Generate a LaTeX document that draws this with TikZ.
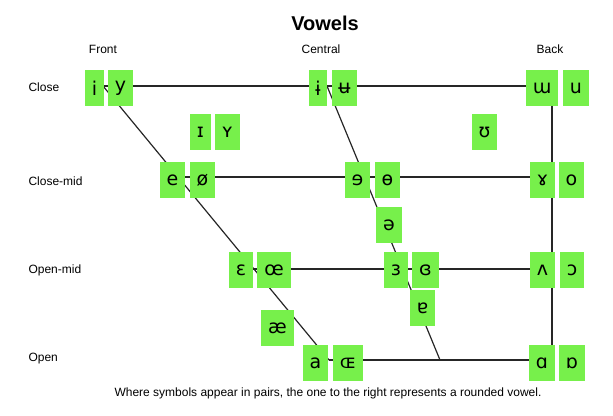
\documentclass[tikz,border=0pt]{standalone}
\usepackage{fontspec}
\setmainfont{Liberation Sans}
\newfontfamily\ipafont{DejaVu Sans}
\definecolor{vg}{HTML}{77F04B}
\begin{document}
\begin{tikzpicture}[x=1pt,y=-1pt,
  lbl/.style={font=\fontsize{12}{14}\selectfont, anchor=center},
  ln/.style={line width=1.2pt, black!85},
  v/.style={fill=vg, inner sep=0pt, minimum height=36pt, font=\ipafont\fontsize{19}{20}\selectfont}]
\useasboundingbox (0,0) rectangle (613,415);
\node[font=\bfseries\fontsize{20}{22}\selectfont] (title) at (325,23) {Vowels};
\node[lbl] (hf) at (103,49) {Front};
\node[lbl] (hc) at (321,49) {Central};
\node[lbl] (hb) at (550,49) {Back};
\node[lbl, anchor=west] (rc) at (25,87) {Close};
\node[lbl, anchor=west] (rcm) at (25,181) {Close-mid};
\node[lbl, anchor=west] (rom) at (25,270) {Open-mid};
\node[lbl, anchor=west] (ro) at (25,359) {Open};
\node[lbl] (cap) at (328,393) {Where symbols appear in pairs, the one to the right represents a rounded vowel.};
% chart lines
\coordinate (c1) at (103,86); \coordinate (c2) at (552,86);
\coordinate (f1) at (178,177); \coordinate (b1) at (552,177);
\coordinate (f2) at (253,269); \coordinate (b2) at (552,269);
\coordinate (f3) at (329,360); \coordinate (b3) at (552,360);
\coordinate (m0) at (327,86); \coordinate (m3) at (440,360);
\draw[ln] (c1) -- (c2);
\draw[ln] (f1) -- (b1);
\draw[ln] (f2) -- (b2);
\draw[ln] (f3) -- (b3);
\draw[ln] (c1) -- (f3);
\draw[ln] (m0) -- (m3);
\draw[ln] (c2) -- (b3);
% vowels
\newcommand\vw[5]{\node[v, minimum width=#4pt] (#1) at (#2,#3) {#5};}
\vw{i}{94.5}{88}{19}{i}
\vw{y}{120.5}{88}{25}{y}
\vw{ibar}{318}{88}{18}{ɨ}
\vw{ubar}{344.5}{88}{25}{ʉ}
\vw{mm}{542}{88}{32}{ɯ}
\vw{u}{576}{88}{26}{u}
\vw{I}{200.5}{132}{21}{ɪ}
\vw{Y}{227.5}{132}{25}{ʏ}
\vw{U}{484.5}{132}{25}{ʊ}
\vw{e}{172.5}{180}{25}{e}
\vw{oe}{202.5}{180}{25}{ø}
\vw{rev}{357.5}{180}{25}{ɘ}
\vw{obar}{387.5}{180}{25}{ɵ}
\vw{ram}{542.5}{180}{25}{ɤ}
\vw{o}{571.5}{180}{25}{o}
\vw{schwa}{389}{225}{26}{ə}
\vw{eps}{241}{270}{24}{ɛ}
\vw{oel}{274}{270}{34}{œ}
\vw{reps}{396}{270}{24}{ɜ}
\vw{ceps}{425.5}{270}{27}{ɞ}
\vw{v}{542.5}{270}{25}{ʌ}
\vw{oo}{572}{270}{24}{ɔ}
\vw{ae}{277.5}{328}{33}{æ}
\vw{turna}{422.5}{308}{25}{ɐ}
\vw{a}{315.5}{363}{25}{a}
\vw{OE}{348}{363}{30}{ɶ}
\vw{alpha}{542}{363}{26}{ɑ}
\vw{turnalpha}{572}{363}{26}{ɒ}
\end{tikzpicture}
\end{document}
